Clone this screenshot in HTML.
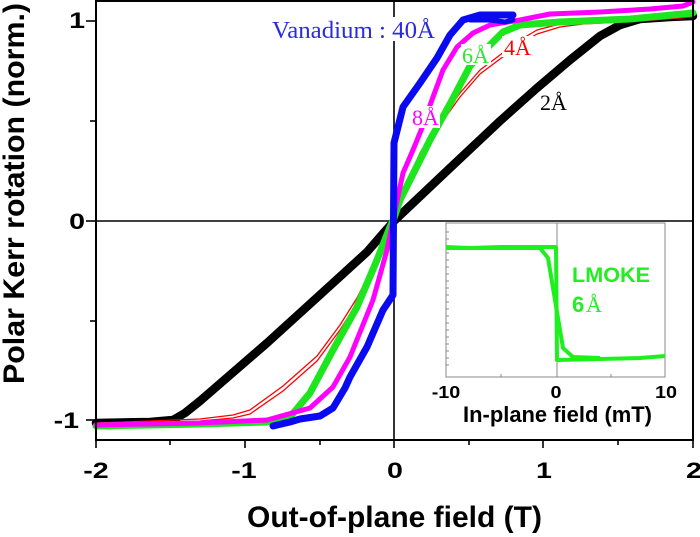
<!DOCTYPE html>
<html><head><meta charset="utf-8">
<style>
html,body{margin:0;padding:0;background:#fff;width:700px;height:537px;overflow:hidden}
svg{display:block}
.s{font-family:"Liberation Sans",Arial,sans-serif;font-weight:bold}
.r{font-family:"Liberation Serif","Times New Roman",serif;font-weight:normal}
</style></head><body>
<svg width="700" height="537" viewBox="0 0 700 537" xmlns="http://www.w3.org/2000/svg">
<rect width="700" height="537" fill="#fff"/>
<!-- zero lines -->
<line x1="96" y1="221" x2="693" y2="221" stroke="#000" stroke-width="1.6"/>
<line x1="394" y1="1" x2="394" y2="440" stroke="#000" stroke-width="1.6"/>

<g fill="none" stroke-linejoin="round" stroke-linecap="round">
<!-- black 2A -->
<polyline stroke="#000" stroke-width="8.5" points="96,423 150,422 173,420 185,413 200,401 267,343 333,283 367,252 394,221 450,168 500,121 537,88 570,60 600,36 620,25 640,19 670,17 693,16"/>
<!-- red 4A double thin -->
<polyline stroke="#f00" stroke-width="1.3" points="96,423 150,421 200,419 233,415 250,410 283,386 317,356 340,325 357,298 372,268 385,238 394,220 405,188 420,153 437,125 460,93 480,70 500,55 520,40 537,30 560,24 583,21 640,18 693,14"/>
<polyline stroke="#f00" stroke-width="1.3" points="96,425 150,423 200,421 233,418 250,414 283,391 317,361 340,330 357,303 372,272 385,242 394,222 405,192 420,157 437,129 460,97 480,74 500,59 520,44 537,34 560,27 583,24 640,21 693,17"/>
<!-- green 6A -->
<polyline stroke="#1ee61e" stroke-width="7" points="96,426 150,425 200,424 267,422 290,417 310,393 333,350 357,307 377,260 390,227 394,218 400,200 415,170 430,140 450,104 470,66 490,45 503,32 520,25 560,22 630,19 693,13"/>
<!-- magenta 8A -->
<polyline stroke="#f0f" stroke-width="5" points="96,425 150,424 200,423 267,420 310,408 333,387 350,357 373,300 387,250 394,215 403,173 413,150 422,128 433,97 443,70 457,47 473,33 490,25 520,20 550,14 600,12 650,9 683,6 693,2"/>
<!-- blue 40A -->
<polyline stroke="#0a0af0" stroke-width="7" points="273,426 290,422 300,419 320,416 333,408 345,388 350,377 367,347 383,310 393,295 394,143 403,107 420,83 437,58 450,35 463,20 480,15 513,15"/>
<polyline stroke="#0a0af0" stroke-width="5" points="470,20 490,20 505,22 513,20"/>
</g>

<!-- labels with white boxes -->
<rect x="270" y="17" width="167" height="24" fill="#fff"/>
<text class="r" x="272" y="38" font-size="24" fill="#2a2ae0" textLength="163" lengthAdjust="spacingAndGlyphs">Vanadium : 40Å</text>
<rect x="411" y="106" width="29" height="22" fill="#fff"/>
<text class="r" x="412" y="125" font-size="22" fill="#f0f">8Å</text>
<rect x="461" y="44" width="30" height="21" fill="#fff"/>
<text class="r" x="462" y="63" font-size="22" fill="#2ee62e">6Å</text>
<rect x="502" y="36" width="32" height="21" fill="#fff"/>
<text class="r" x="504" y="55" font-size="22" fill="#f00">4Å</text>
<text class="r" x="540" y="110" font-size="22" fill="#000">2Å</text>

<!-- frame -->
<rect x="96" y="1" width="597" height="439" fill="none" stroke="#000" stroke-width="2"/>
<!-- ticks -->
<g stroke="#000" stroke-width="1.6">
<line x1="86" y1="21" x2="96" y2="21"/><line x1="86" y1="221" x2="96" y2="221"/><line x1="86" y1="420" x2="96" y2="420"/>
<line x1="90" y1="121" x2="96" y2="121"/><line x1="90" y1="321" x2="96" y2="321"/>
<line x1="96" y1="440" x2="96" y2="448"/><line x1="245" y1="440" x2="245" y2="448"/><line x1="394" y1="440" x2="394" y2="448"/><line x1="543" y1="440" x2="543" y2="448"/><line x1="693" y1="440" x2="693" y2="448"/>
<line x1="170" y1="440" x2="170" y2="445"/><line x1="320" y1="440" x2="320" y2="445"/><line x1="469" y1="440" x2="469" y2="445"/><line x1="618" y1="440" x2="618" y2="445"/>
</g>
<!-- tick labels -->
<g class="s" font-size="22" fill="#000">
<text transform="translate(85,28) scale(1.3,1)" text-anchor="end">1</text>
<text transform="translate(85,229) scale(1.3,1)" text-anchor="end">0</text>
<text transform="translate(79,428) scale(1.3,1)" text-anchor="end">-1</text>
<text transform="translate(96,478) scale(1.3,1)" text-anchor="middle">-2</text>
<text transform="translate(244,478) scale(1.3,1)" text-anchor="middle">-1</text>
<text transform="translate(395,478) scale(1.3,1)" text-anchor="middle">0</text>
<text transform="translate(544,478) scale(1.3,1)" text-anchor="middle">1</text>
<text transform="translate(694,478) scale(1.3,1)" text-anchor="middle">2</text>
</g>
<!-- axis titles -->
<text class="s" x="247" y="527" font-size="30" textLength="295" lengthAdjust="spacingAndGlyphs">Out-of-plane field (T)</text>
<text class="s" transform="translate(24,384) rotate(-90)" x="0" y="0" font-size="30" textLength="381" lengthAdjust="spacingAndGlyphs">Polar Kerr rotation (norm.)</text>

<!-- inset -->
<rect x="446" y="223" width="219" height="154" fill="#fff" stroke="#8a8a8a" stroke-width="1"/>
<line x1="557" y1="223" x2="557" y2="377" stroke="#8a8a8a" stroke-width="1"/>
<g stroke="#8a8a8a" stroke-width="1">
<line x1="446" y1="232" x2="449" y2="232"/><line x1="446" y1="239" x2="449" y2="239"/><line x1="446" y1="246" x2="449" y2="246"/><line x1="446" y1="253" x2="449" y2="253"/><line x1="446" y1="260" x2="449" y2="260"/><line x1="446" y1="267" x2="449" y2="267"/><line x1="446" y1="274" x2="449" y2="274"/><line x1="446" y1="281" x2="449" y2="281"/><line x1="446" y1="288" x2="449" y2="288"/><line x1="446" y1="295" x2="449" y2="295"/><line x1="446" y1="302" x2="449" y2="302"/><line x1="446" y1="309" x2="449" y2="309"/><line x1="446" y1="316" x2="449" y2="316"/><line x1="446" y1="323" x2="449" y2="323"/><line x1="446" y1="330" x2="449" y2="330"/><line x1="446" y1="337" x2="449" y2="337"/><line x1="446" y1="344" x2="449" y2="344"/><line x1="446" y1="351" x2="449" y2="351"/><line x1="446" y1="358" x2="449" y2="358"/><line x1="446" y1="365" x2="449" y2="365"/>
<line x1="501" y1="377" x2="501" y2="374"/><line x1="611" y1="377" x2="611" y2="374"/>
</g>
<g fill="none" stroke="#1ef01e" stroke-width="4" stroke-linejoin="round">
<polyline points="446,247 470,248 500,247 530,247 556,247 557,360 600,359 640,358 665,356"/>
<polyline points="446,248 500,248 540,248 548,258 563,348 573,357 600,358"/>
</g>
<text class="s" x="572" y="282" font-size="21" fill="#22ee22" textLength="78" lengthAdjust="spacingAndGlyphs">LMOKE</text>
<text class="s" x="572" y="312" font-size="22" fill="#22ee22">6</text>
<text class="r" x="586" y="312" font-size="22" fill="#22ee22">Å</text>
<g class="s" font-size="18" fill="#000">
<text transform="translate(446,398) scale(1.1,1)" text-anchor="middle">-10</text>
<text transform="translate(556,398) scale(1.1,1)" text-anchor="middle">0</text>
<text transform="translate(666,398) scale(1.1,1)" text-anchor="middle">10</text>
</g>
<text class="s" x="463" y="422" font-size="22" textLength="189" lengthAdjust="spacingAndGlyphs">In-plane field (mT)</text>
</svg>
</body></html>
